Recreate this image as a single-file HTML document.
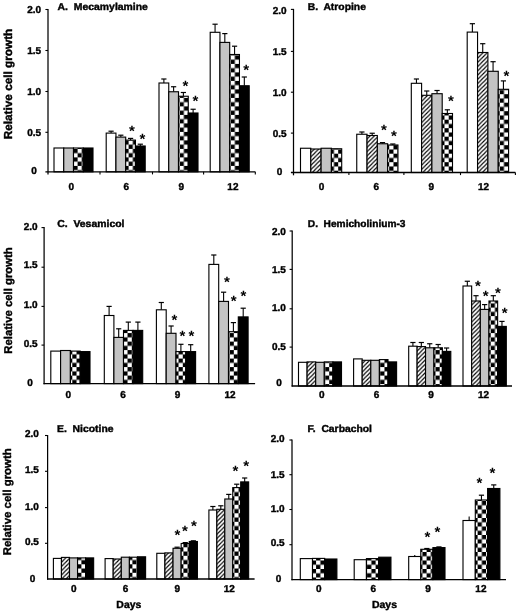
<!DOCTYPE html>
<html><head><meta charset="utf-8"><title>Relative cell growth</title>
<style>
html,body{margin:0;padding:0;background:#fff;}
svg{display:block;}
text{font-family:"Liberation Sans", sans-serif;font-weight:bold;fill:#000;text-rendering:geometricPrecision;}
</style></head>
<body>
<svg width="520" height="613" viewBox="0 0 520 613">
<rect x="0" y="0" width="520" height="613" fill="#fff"/>
<defs>
<pattern id="chk0" x="230.60" y="55.40" width="8.5" height="8.5" patternUnits="userSpaceOnUse"><rect width="8.5" height="8.5" fill="#000"/><rect x="0" y="0" width="4.25" height="4.25" fill="#fff"/><rect x="4.25" y="4.25" width="4.25" height="4.25" fill="#fff"/></pattern>
<pattern id="chk1" x="499.70" y="94.20" width="8.5" height="8.5" patternUnits="userSpaceOnUse"><rect width="8.5" height="8.5" fill="#000"/><rect x="0" y="0" width="4.25" height="4.25" fill="#fff"/><rect x="4.25" y="4.25" width="4.25" height="4.25" fill="#fff"/></pattern>
<pattern id="hat1" x="0.25" y="0" width="4.25" height="4.25" patternUnits="userSpaceOnUse"><rect width="4.25" height="4.25" fill="#fff"/><path d="M-1,5.25 L5.25,-1 M-1,1 L1,-1 M3.25,5.25 L5.25,3.25" stroke="#000" stroke-width="1.15" fill="none"/></pattern>
<pattern id="chk2" x="72.30" y="358.60" width="8.5" height="8.5" patternUnits="userSpaceOnUse"><rect width="8.5" height="8.5" fill="#000"/><rect x="0" y="0" width="4.25" height="4.25" fill="#fff"/><rect x="4.25" y="4.25" width="4.25" height="4.25" fill="#fff"/></pattern>
<pattern id="chk3" x="490.70" y="307.60" width="8.5" height="8.5" patternUnits="userSpaceOnUse"><rect width="8.5" height="8.5" fill="#000"/><rect x="0" y="0" width="4.25" height="4.25" fill="#fff"/><rect x="4.25" y="4.25" width="4.25" height="4.25" fill="#fff"/></pattern>
<pattern id="hat3" x="3.25" y="0" width="4.25" height="4.25" patternUnits="userSpaceOnUse"><rect width="4.25" height="4.25" fill="#fff"/><path d="M-1,5.25 L5.25,-1 M-1,1 L1,-1 M3.25,5.25 L5.25,3.25" stroke="#000" stroke-width="1.15" fill="none"/></pattern>
<pattern id="chk4" x="234.40" y="487.80" width="8.5" height="8.5" patternUnits="userSpaceOnUse"><rect width="8.5" height="8.5" fill="#000"/><rect x="0" y="0" width="4.25" height="4.25" fill="#fff"/><rect x="4.25" y="4.25" width="4.25" height="4.25" fill="#fff"/></pattern>
<pattern id="hat4" x="3.20" y="0" width="4.25" height="4.25" patternUnits="userSpaceOnUse"><rect width="4.25" height="4.25" fill="#fff"/><path d="M-1,5.25 L5.25,-1 M-1,1 L1,-1 M3.25,5.25 L5.25,3.25" stroke="#000" stroke-width="1.15" fill="none"/></pattern>
<pattern id="chk5" x="477.60" y="501.00" width="8.5" height="8.5" patternUnits="userSpaceOnUse"><rect width="8.5" height="8.5" fill="#000"/><rect x="0" y="0" width="4.25" height="4.25" fill="#fff"/><rect x="4.25" y="4.25" width="4.25" height="4.25" fill="#fff"/></pattern>
</defs>
<rect x="54.00" y="148.00" width="9.75" height="23.80" fill="#fff" stroke="#000" stroke-width="1.12"/>
<rect x="63.75" y="148.00" width="9.75" height="23.80" fill="#c4c4c4" stroke="#000" stroke-width="1.12"/>
<rect x="73.50" y="148.00" width="9.75" height="23.80" fill="url(#chk0)" stroke="#000" stroke-width="1.12"/>
<rect x="83.25" y="148.00" width="9.75" height="23.80" fill="#000" stroke="#000" stroke-width="1.12"/>
<line x1="111.08" y1="133.10" x2="111.08" y2="131.20" stroke="#000" stroke-width="1.1"/>
<line x1="108.48" y1="131.20" x2="113.67" y2="131.20" stroke="#000" stroke-width="1.2"/>
<rect x="106.20" y="133.10" width="9.75" height="38.70" fill="#fff" stroke="#000" stroke-width="1.12"/>
<line x1="120.83" y1="137.10" x2="120.83" y2="135.20" stroke="#000" stroke-width="1.1"/>
<line x1="118.23" y1="135.20" x2="123.42" y2="135.20" stroke="#000" stroke-width="1.2"/>
<rect x="115.95" y="137.10" width="9.75" height="34.70" fill="#c4c4c4" stroke="#000" stroke-width="1.12"/>
<line x1="130.57" y1="140.10" x2="130.57" y2="138.40" stroke="#000" stroke-width="1.1"/>
<line x1="127.97" y1="138.40" x2="133.17" y2="138.40" stroke="#000" stroke-width="1.2"/>
<rect x="125.70" y="140.10" width="9.75" height="31.70" fill="url(#chk0)" stroke="#000" stroke-width="1.12"/>
<line x1="140.32" y1="146.00" x2="140.32" y2="144.20" stroke="#000" stroke-width="1.1"/>
<line x1="137.72" y1="144.20" x2="142.92" y2="144.20" stroke="#000" stroke-width="1.2"/>
<rect x="135.45" y="146.00" width="9.75" height="25.80" fill="#000" stroke="#000" stroke-width="1.12"/>
<text x="132.00" y="135.90" font-size="15" text-anchor="middle" >*</text>
<text x="142.50" y="143.90" font-size="15" text-anchor="middle" >*</text>
<line x1="163.88" y1="83.00" x2="163.88" y2="79.00" stroke="#000" stroke-width="1.1"/>
<line x1="161.28" y1="79.00" x2="166.47" y2="79.00" stroke="#000" stroke-width="1.2"/>
<rect x="159.00" y="83.00" width="9.75" height="88.80" fill="#fff" stroke="#000" stroke-width="1.12"/>
<line x1="173.62" y1="91.75" x2="173.62" y2="86.75" stroke="#000" stroke-width="1.1"/>
<line x1="171.03" y1="86.75" x2="176.22" y2="86.75" stroke="#000" stroke-width="1.2"/>
<rect x="168.75" y="91.75" width="9.75" height="80.05" fill="#c4c4c4" stroke="#000" stroke-width="1.12"/>
<line x1="183.38" y1="96.25" x2="183.38" y2="92.50" stroke="#000" stroke-width="1.1"/>
<line x1="180.78" y1="92.50" x2="185.97" y2="92.50" stroke="#000" stroke-width="1.2"/>
<rect x="178.50" y="96.25" width="9.75" height="75.55" fill="url(#chk0)" stroke="#000" stroke-width="1.12"/>
<line x1="193.12" y1="113.00" x2="193.12" y2="109.25" stroke="#000" stroke-width="1.1"/>
<line x1="190.53" y1="109.25" x2="195.72" y2="109.25" stroke="#000" stroke-width="1.2"/>
<rect x="188.25" y="113.00" width="9.75" height="58.80" fill="#000" stroke="#000" stroke-width="1.12"/>
<text x="185.50" y="90.50" font-size="15" text-anchor="middle" >*</text>
<text x="195.40" y="105.70" font-size="15" text-anchor="middle" >*</text>
<line x1="215.07" y1="32.30" x2="215.07" y2="24.20" stroke="#000" stroke-width="1.1"/>
<line x1="212.47" y1="24.20" x2="217.67" y2="24.20" stroke="#000" stroke-width="1.2"/>
<rect x="210.20" y="32.30" width="9.75" height="139.50" fill="#fff" stroke="#000" stroke-width="1.12"/>
<line x1="224.82" y1="42.40" x2="224.82" y2="33.60" stroke="#000" stroke-width="1.1"/>
<line x1="222.22" y1="33.60" x2="227.42" y2="33.60" stroke="#000" stroke-width="1.2"/>
<rect x="219.95" y="42.40" width="9.75" height="129.40" fill="#c4c4c4" stroke="#000" stroke-width="1.12"/>
<line x1="234.57" y1="54.50" x2="234.57" y2="46.20" stroke="#000" stroke-width="1.1"/>
<line x1="231.97" y1="46.20" x2="237.17" y2="46.20" stroke="#000" stroke-width="1.2"/>
<rect x="229.70" y="54.50" width="9.75" height="117.30" fill="url(#chk0)" stroke="#000" stroke-width="1.12"/>
<line x1="244.32" y1="85.75" x2="244.32" y2="77.00" stroke="#000" stroke-width="1.1"/>
<line x1="241.72" y1="77.00" x2="246.92" y2="77.00" stroke="#000" stroke-width="1.2"/>
<rect x="239.45" y="85.75" width="9.75" height="86.05" fill="#000" stroke="#000" stroke-width="1.12"/>
<text x="246.20" y="75.20" font-size="15" text-anchor="middle" >*</text>
<line x1="48.00" y1="9.00" x2="48.00" y2="174.60" stroke="#000" stroke-width="1.25"/>
<line x1="45.40" y1="171.80" x2="255.30" y2="171.80" stroke="#000" stroke-width="1.35"/>
<text x="36.80" y="173.90" font-size="10.0" text-anchor="end" stroke="#000" stroke-width="0.4">0</text>
<line x1="45.40" y1="132.30" x2="48.00" y2="132.30" stroke="#000" stroke-width="1.1"/>
<text x="41.20" y="135.50" font-size="10.0" text-anchor="end" stroke="#000" stroke-width="0.4">0.5</text>
<line x1="45.40" y1="91.50" x2="48.00" y2="91.50" stroke="#000" stroke-width="1.1"/>
<text x="41.20" y="94.90" font-size="10.0" text-anchor="end" stroke="#000" stroke-width="0.4">1.0</text>
<line x1="45.40" y1="50.50" x2="48.00" y2="50.50" stroke="#000" stroke-width="1.1"/>
<text x="41.20" y="54.00" font-size="10.0" text-anchor="end" stroke="#000" stroke-width="0.4">1.5</text>
<line x1="45.40" y1="9.50" x2="48.00" y2="9.50" stroke="#000" stroke-width="1.1"/>
<text x="41.20" y="13.00" font-size="10.0" text-anchor="end" stroke="#000" stroke-width="0.4">2.0</text>
<line x1="100.00" y1="171.80" x2="100.00" y2="174.40" stroke="#000" stroke-width="1.1"/>
<line x1="152.50" y1="171.80" x2="152.50" y2="174.40" stroke="#000" stroke-width="1.1"/>
<line x1="203.60" y1="171.80" x2="203.60" y2="174.40" stroke="#000" stroke-width="1.1"/>
<line x1="255.30" y1="171.80" x2="255.30" y2="174.40" stroke="#000" stroke-width="1.1"/>
<text x="71.30" y="189.80" font-size="10.0" text-anchor="middle" stroke="#000" stroke-width="0.4">0</text>
<text x="126.30" y="189.80" font-size="10.0" text-anchor="middle" stroke="#000" stroke-width="0.4">6</text>
<text x="181.30" y="189.80" font-size="10.0" text-anchor="middle" stroke="#000" stroke-width="0.4">9</text>
<text x="232.90" y="189.80" font-size="10.0" text-anchor="middle" stroke="#000" stroke-width="0.4">12</text>
<text x="57.60" y="9.80" font-size="10.0" text-anchor="start" xml:space="preserve" textLength="90.3" lengthAdjust="spacingAndGlyphs" stroke="#000" stroke-width="0.4">A.  Mecamylamine</text>
<text transform="translate(12.20,84.00) rotate(-90)" font-size="11.6" text-anchor="middle" textLength="110.6" lengthAdjust="spacingAndGlyphs" stroke="#000" stroke-width="0.4">Relative cell growth</text>
<rect x="300.50" y="148.25" width="10.30" height="24.25" fill="#fff" stroke="#000" stroke-width="1.12"/>
<rect x="310.80" y="149.00" width="10.30" height="23.50" fill="url(#hat1)" stroke="#000" stroke-width="1.12"/>
<rect x="321.10" y="148.25" width="10.30" height="24.25" fill="#c4c4c4" stroke="#000" stroke-width="1.12"/>
<rect x="331.40" y="148.75" width="10.30" height="23.75" fill="url(#chk1)" stroke="#000" stroke-width="1.12"/>
<line x1="361.90" y1="134.25" x2="361.90" y2="132.00" stroke="#000" stroke-width="1.1"/>
<line x1="359.30" y1="132.00" x2="364.50" y2="132.00" stroke="#000" stroke-width="1.2"/>
<rect x="356.75" y="134.25" width="10.30" height="38.25" fill="#fff" stroke="#000" stroke-width="1.12"/>
<line x1="372.20" y1="135.50" x2="372.20" y2="133.25" stroke="#000" stroke-width="1.1"/>
<line x1="369.60" y1="133.25" x2="374.80" y2="133.25" stroke="#000" stroke-width="1.2"/>
<rect x="367.05" y="135.50" width="10.30" height="37.00" fill="url(#hat1)" stroke="#000" stroke-width="1.12"/>
<line x1="382.50" y1="143.75" x2="382.50" y2="142.60" stroke="#000" stroke-width="1.1"/>
<line x1="379.90" y1="142.60" x2="385.10" y2="142.60" stroke="#000" stroke-width="1.2"/>
<rect x="377.35" y="143.75" width="10.30" height="28.75" fill="#c4c4c4" stroke="#000" stroke-width="1.12"/>
<line x1="392.80" y1="145.00" x2="392.80" y2="144.00" stroke="#000" stroke-width="1.1"/>
<line x1="390.20" y1="144.00" x2="395.40" y2="144.00" stroke="#000" stroke-width="1.2"/>
<rect x="387.65" y="145.00" width="10.30" height="27.50" fill="url(#chk1)" stroke="#000" stroke-width="1.12"/>
<text x="384.00" y="135.00" font-size="15" text-anchor="middle" >*</text>
<text x="394.00" y="141.40" font-size="15" text-anchor="middle" >*</text>
<line x1="416.45" y1="83.30" x2="416.45" y2="79.00" stroke="#000" stroke-width="1.1"/>
<line x1="413.85" y1="79.00" x2="419.05" y2="79.00" stroke="#000" stroke-width="1.2"/>
<rect x="411.30" y="83.30" width="10.30" height="89.20" fill="#fff" stroke="#000" stroke-width="1.12"/>
<line x1="426.75" y1="95.30" x2="426.75" y2="91.00" stroke="#000" stroke-width="1.1"/>
<line x1="424.15" y1="91.00" x2="429.35" y2="91.00" stroke="#000" stroke-width="1.2"/>
<rect x="421.60" y="95.30" width="10.30" height="77.20" fill="url(#hat1)" stroke="#000" stroke-width="1.12"/>
<line x1="437.05" y1="93.70" x2="437.05" y2="90.50" stroke="#000" stroke-width="1.1"/>
<line x1="434.45" y1="90.50" x2="439.65" y2="90.50" stroke="#000" stroke-width="1.2"/>
<rect x="431.90" y="93.70" width="10.30" height="78.80" fill="#c4c4c4" stroke="#000" stroke-width="1.12"/>
<line x1="447.35" y1="113.50" x2="447.35" y2="109.80" stroke="#000" stroke-width="1.1"/>
<line x1="444.75" y1="109.80" x2="449.95" y2="109.80" stroke="#000" stroke-width="1.2"/>
<rect x="442.20" y="113.50" width="10.30" height="59.00" fill="url(#chk1)" stroke="#000" stroke-width="1.12"/>
<text x="450.80" y="106.40" font-size="15" text-anchor="middle" >*</text>
<line x1="472.38" y1="32.10" x2="472.38" y2="23.70" stroke="#000" stroke-width="1.1"/>
<line x1="469.77" y1="23.70" x2="474.98" y2="23.70" stroke="#000" stroke-width="1.2"/>
<rect x="467.20" y="32.10" width="10.35" height="140.40" fill="#fff" stroke="#000" stroke-width="1.12"/>
<line x1="482.73" y1="52.50" x2="482.73" y2="43.70" stroke="#000" stroke-width="1.1"/>
<line x1="480.12" y1="43.70" x2="485.33" y2="43.70" stroke="#000" stroke-width="1.2"/>
<rect x="477.55" y="52.50" width="10.35" height="120.00" fill="url(#hat1)" stroke="#000" stroke-width="1.12"/>
<line x1="493.07" y1="71.30" x2="493.07" y2="61.70" stroke="#000" stroke-width="1.1"/>
<line x1="490.47" y1="61.70" x2="495.68" y2="61.70" stroke="#000" stroke-width="1.2"/>
<rect x="487.90" y="71.30" width="10.35" height="101.20" fill="#c4c4c4" stroke="#000" stroke-width="1.12"/>
<line x1="503.43" y1="89.30" x2="503.43" y2="80.90" stroke="#000" stroke-width="1.1"/>
<line x1="500.82" y1="80.90" x2="506.03" y2="80.90" stroke="#000" stroke-width="1.2"/>
<rect x="498.25" y="89.30" width="10.35" height="83.20" fill="url(#chk1)" stroke="#000" stroke-width="1.12"/>
<text x="506.30" y="80.80" font-size="15" text-anchor="middle" >*</text>
<line x1="293.50" y1="8.90" x2="293.50" y2="175.30" stroke="#000" stroke-width="1.25"/>
<line x1="290.90" y1="172.50" x2="515.40" y2="172.50" stroke="#000" stroke-width="1.35"/>
<text x="282.30" y="175.00" font-size="10.0" text-anchor="end" stroke="#000" stroke-width="0.4">0</text>
<line x1="290.90" y1="133.10" x2="293.50" y2="133.10" stroke="#000" stroke-width="1.1"/>
<text x="286.70" y="136.50" font-size="10.0" text-anchor="end" stroke="#000" stroke-width="0.4">0.5</text>
<line x1="290.90" y1="92.20" x2="293.50" y2="92.20" stroke="#000" stroke-width="1.1"/>
<text x="286.70" y="96.25" font-size="10.0" text-anchor="end" stroke="#000" stroke-width="0.4">1.0</text>
<line x1="290.90" y1="51.40" x2="293.50" y2="51.40" stroke="#000" stroke-width="1.1"/>
<text x="286.70" y="54.50" font-size="10.0" text-anchor="end" stroke="#000" stroke-width="0.4">1.5</text>
<line x1="290.90" y1="9.40" x2="293.50" y2="9.40" stroke="#000" stroke-width="1.1"/>
<text x="286.70" y="14.20" font-size="10.0" text-anchor="end" stroke="#000" stroke-width="0.4">2.0</text>
<line x1="348.90" y1="172.50" x2="348.90" y2="175.10" stroke="#000" stroke-width="1.1"/>
<line x1="403.90" y1="172.50" x2="403.90" y2="175.10" stroke="#000" stroke-width="1.1"/>
<line x1="460.50" y1="172.50" x2="460.50" y2="175.10" stroke="#000" stroke-width="1.1"/>
<line x1="515.40" y1="172.50" x2="515.40" y2="175.10" stroke="#000" stroke-width="1.1"/>
<text x="321.50" y="190.20" font-size="10.0" text-anchor="middle" stroke="#000" stroke-width="0.4">0</text>
<text x="376.20" y="190.20" font-size="10.0" text-anchor="middle" stroke="#000" stroke-width="0.4">6</text>
<text x="431.20" y="190.20" font-size="10.0" text-anchor="middle" stroke="#000" stroke-width="0.4">9</text>
<text x="483.50" y="190.20" font-size="10.0" text-anchor="middle" stroke="#000" stroke-width="0.4">12</text>
<text x="307.70" y="10.00" font-size="10.0" text-anchor="start" xml:space="preserve" textLength="58.2" lengthAdjust="spacingAndGlyphs" stroke="#000" stroke-width="0.4">B.  Atropine</text>
<rect x="50.80" y="351.10" width="9.80" height="32.50" fill="#fff" stroke="#000" stroke-width="1.12"/>
<rect x="60.60" y="350.50" width="9.80" height="33.10" fill="#c4c4c4" stroke="#000" stroke-width="1.12"/>
<rect x="70.40" y="351.10" width="9.80" height="32.50" fill="url(#chk2)" stroke="#000" stroke-width="1.12"/>
<rect x="80.20" y="351.60" width="9.80" height="32.00" fill="#000" stroke="#000" stroke-width="1.12"/>
<line x1="109.10" y1="315.50" x2="109.10" y2="306.40" stroke="#000" stroke-width="1.1"/>
<line x1="106.50" y1="306.40" x2="111.70" y2="306.40" stroke="#000" stroke-width="1.2"/>
<rect x="104.30" y="315.50" width="9.60" height="68.10" fill="#fff" stroke="#000" stroke-width="1.12"/>
<line x1="118.70" y1="337.40" x2="118.70" y2="328.80" stroke="#000" stroke-width="1.1"/>
<line x1="116.10" y1="328.80" x2="121.30" y2="328.80" stroke="#000" stroke-width="1.2"/>
<rect x="113.90" y="337.40" width="9.60" height="46.20" fill="#c4c4c4" stroke="#000" stroke-width="1.12"/>
<line x1="128.30" y1="330.40" x2="128.30" y2="322.10" stroke="#000" stroke-width="1.1"/>
<line x1="125.70" y1="322.10" x2="130.90" y2="322.10" stroke="#000" stroke-width="1.2"/>
<rect x="123.50" y="330.40" width="9.60" height="53.20" fill="url(#chk2)" stroke="#000" stroke-width="1.12"/>
<line x1="137.90" y1="330.40" x2="137.90" y2="322.10" stroke="#000" stroke-width="1.1"/>
<line x1="135.30" y1="322.10" x2="140.50" y2="322.10" stroke="#000" stroke-width="1.2"/>
<rect x="133.10" y="330.40" width="9.60" height="53.20" fill="#000" stroke="#000" stroke-width="1.12"/>
<line x1="161.30" y1="309.80" x2="161.30" y2="302.50" stroke="#000" stroke-width="1.1"/>
<line x1="158.70" y1="302.50" x2="163.90" y2="302.50" stroke="#000" stroke-width="1.2"/>
<rect x="156.40" y="309.80" width="9.80" height="73.80" fill="#fff" stroke="#000" stroke-width="1.12"/>
<line x1="171.10" y1="333.30" x2="171.10" y2="326.00" stroke="#000" stroke-width="1.1"/>
<line x1="168.50" y1="326.00" x2="173.70" y2="326.00" stroke="#000" stroke-width="1.2"/>
<rect x="166.20" y="333.30" width="9.80" height="50.30" fill="#c4c4c4" stroke="#000" stroke-width="1.12"/>
<line x1="180.90" y1="351.60" x2="180.90" y2="344.30" stroke="#000" stroke-width="1.1"/>
<line x1="178.30" y1="344.30" x2="183.50" y2="344.30" stroke="#000" stroke-width="1.2"/>
<rect x="176.00" y="351.60" width="9.80" height="32.00" fill="url(#chk2)" stroke="#000" stroke-width="1.12"/>
<line x1="190.70" y1="351.60" x2="190.70" y2="344.70" stroke="#000" stroke-width="1.1"/>
<line x1="188.10" y1="344.70" x2="193.30" y2="344.70" stroke="#000" stroke-width="1.2"/>
<rect x="185.80" y="351.60" width="9.80" height="32.00" fill="#000" stroke="#000" stroke-width="1.12"/>
<text x="174.40" y="325.10" font-size="15" text-anchor="middle" >*</text>
<text x="182.40" y="340.80" font-size="15" text-anchor="middle" >*</text>
<text x="191.40" y="340.70" font-size="15" text-anchor="middle" >*</text>
<line x1="213.80" y1="264.40" x2="213.80" y2="255.00" stroke="#000" stroke-width="1.1"/>
<line x1="211.20" y1="255.00" x2="216.40" y2="255.00" stroke="#000" stroke-width="1.2"/>
<rect x="208.90" y="264.40" width="9.80" height="119.20" fill="#fff" stroke="#000" stroke-width="1.12"/>
<line x1="223.60" y1="301.40" x2="223.60" y2="292.20" stroke="#000" stroke-width="1.1"/>
<line x1="221.00" y1="292.20" x2="226.20" y2="292.20" stroke="#000" stroke-width="1.2"/>
<rect x="218.70" y="301.40" width="9.80" height="82.20" fill="#c4c4c4" stroke="#000" stroke-width="1.12"/>
<line x1="233.40" y1="331.70" x2="233.40" y2="322.60" stroke="#000" stroke-width="1.1"/>
<line x1="230.80" y1="322.60" x2="236.00" y2="322.60" stroke="#000" stroke-width="1.2"/>
<rect x="228.50" y="331.70" width="9.80" height="51.90" fill="url(#chk2)" stroke="#000" stroke-width="1.12"/>
<line x1="243.20" y1="316.90" x2="243.20" y2="308.20" stroke="#000" stroke-width="1.1"/>
<line x1="240.60" y1="308.20" x2="245.80" y2="308.20" stroke="#000" stroke-width="1.2"/>
<rect x="238.30" y="316.90" width="9.80" height="66.70" fill="#000" stroke="#000" stroke-width="1.12"/>
<text x="227.00" y="286.80" font-size="15" text-anchor="middle" >*</text>
<text x="233.60" y="306.00" font-size="15" text-anchor="middle" >*</text>
<text x="243.30" y="301.40" font-size="15" text-anchor="middle" >*</text>
<line x1="44.10" y1="227.10" x2="44.10" y2="384.20" stroke="#000" stroke-width="1.25"/>
<line x1="43.50" y1="383.60" x2="255.10" y2="383.60" stroke="#000" stroke-width="1.35"/>
<text x="32.80" y="385.90" font-size="10.0" text-anchor="end" stroke="#000" stroke-width="0.4">0</text>
<line x1="41.50" y1="345.10" x2="44.10" y2="345.10" stroke="#000" stroke-width="1.1"/>
<text x="37.60" y="347.10" font-size="10.0" text-anchor="end" stroke="#000" stroke-width="0.4">0.5</text>
<line x1="41.50" y1="306.40" x2="44.10" y2="306.40" stroke="#000" stroke-width="1.1"/>
<text x="37.60" y="307.70" font-size="10.0" text-anchor="end" stroke="#000" stroke-width="0.4">1.0</text>
<line x1="41.50" y1="267.20" x2="44.10" y2="267.20" stroke="#000" stroke-width="1.1"/>
<text x="37.60" y="268.20" font-size="10.0" text-anchor="end" stroke="#000" stroke-width="0.4">1.5</text>
<line x1="41.50" y1="227.60" x2="44.10" y2="227.60" stroke="#000" stroke-width="1.1"/>
<text x="37.60" y="229.60" font-size="10.0" text-anchor="end" stroke="#000" stroke-width="0.4">2.0</text>
<text x="68.20" y="397.90" font-size="10.0" text-anchor="middle" stroke="#000" stroke-width="0.4">0</text>
<text x="123.10" y="397.90" font-size="10.0" text-anchor="middle" stroke="#000" stroke-width="0.4">6</text>
<text x="177.50" y="397.90" font-size="10.0" text-anchor="middle" stroke="#000" stroke-width="0.4">9</text>
<text x="230.00" y="397.90" font-size="10.0" text-anchor="middle" stroke="#000" stroke-width="0.4">12</text>
<text x="57.20" y="227.30" font-size="10.0" text-anchor="start" xml:space="preserve" textLength="67.3" lengthAdjust="spacingAndGlyphs" stroke="#000" stroke-width="0.4">C.  Vesamicol</text>
<text transform="translate(11.85,300.50) rotate(-90)" font-size="11.3" text-anchor="middle" textLength="106.5" lengthAdjust="spacingAndGlyphs" stroke="#000" stroke-width="0.4">Relative cell growth</text>
<rect x="298.50" y="362.30" width="8.60" height="23.70" fill="#fff" stroke="#000" stroke-width="1.12"/>
<rect x="307.10" y="361.90" width="8.60" height="24.10" fill="url(#hat3)" stroke="#000" stroke-width="1.12"/>
<rect x="315.70" y="362.30" width="8.60" height="23.70" fill="#c4c4c4" stroke="#000" stroke-width="1.12"/>
<rect x="324.30" y="361.90" width="8.60" height="24.10" fill="url(#chk3)" stroke="#000" stroke-width="1.12"/>
<rect x="332.90" y="361.90" width="8.60" height="24.10" fill="#000" stroke="#000" stroke-width="1.12"/>
<rect x="353.60" y="358.90" width="8.60" height="27.10" fill="#fff" stroke="#000" stroke-width="1.12"/>
<rect x="362.20" y="360.30" width="8.60" height="25.70" fill="url(#hat3)" stroke="#000" stroke-width="1.12"/>
<rect x="370.80" y="360.30" width="8.60" height="25.70" fill="#c4c4c4" stroke="#000" stroke-width="1.12"/>
<rect x="379.40" y="359.60" width="8.60" height="26.40" fill="url(#chk3)" stroke="#000" stroke-width="1.12"/>
<rect x="388.00" y="361.90" width="8.60" height="24.10" fill="#000" stroke="#000" stroke-width="1.12"/>
<line x1="412.91" y1="346.20" x2="412.91" y2="342.50" stroke="#000" stroke-width="1.1"/>
<line x1="410.31" y1="342.50" x2="415.51" y2="342.50" stroke="#000" stroke-width="1.2"/>
<rect x="408.70" y="346.20" width="8.42" height="39.80" fill="#fff" stroke="#000" stroke-width="1.12"/>
<line x1="421.33" y1="346.60" x2="421.33" y2="342.50" stroke="#000" stroke-width="1.1"/>
<line x1="418.73" y1="342.50" x2="423.93" y2="342.50" stroke="#000" stroke-width="1.2"/>
<rect x="417.12" y="346.60" width="8.42" height="39.40" fill="url(#hat3)" stroke="#000" stroke-width="1.12"/>
<line x1="429.75" y1="347.80" x2="429.75" y2="343.75" stroke="#000" stroke-width="1.1"/>
<line x1="427.15" y1="343.75" x2="432.35" y2="343.75" stroke="#000" stroke-width="1.2"/>
<rect x="425.54" y="347.80" width="8.42" height="38.20" fill="#c4c4c4" stroke="#000" stroke-width="1.12"/>
<line x1="438.17" y1="347.80" x2="438.17" y2="344.50" stroke="#000" stroke-width="1.1"/>
<line x1="435.57" y1="344.50" x2="440.77" y2="344.50" stroke="#000" stroke-width="1.2"/>
<rect x="433.96" y="347.80" width="8.42" height="38.20" fill="url(#chk3)" stroke="#000" stroke-width="1.12"/>
<line x1="446.59" y1="351.40" x2="446.59" y2="348.00" stroke="#000" stroke-width="1.1"/>
<line x1="443.99" y1="348.00" x2="449.19" y2="348.00" stroke="#000" stroke-width="1.2"/>
<rect x="442.38" y="351.40" width="8.42" height="34.60" fill="#000" stroke="#000" stroke-width="1.12"/>
<line x1="467.33" y1="286.00" x2="467.33" y2="281.25" stroke="#000" stroke-width="1.1"/>
<line x1="464.73" y1="281.25" x2="469.93" y2="281.25" stroke="#000" stroke-width="1.2"/>
<rect x="463.00" y="286.00" width="8.66" height="100.00" fill="#fff" stroke="#000" stroke-width="1.12"/>
<line x1="475.99" y1="301.00" x2="475.99" y2="295.70" stroke="#000" stroke-width="1.1"/>
<line x1="473.39" y1="295.70" x2="478.59" y2="295.70" stroke="#000" stroke-width="1.2"/>
<rect x="471.66" y="301.00" width="8.66" height="85.00" fill="url(#hat3)" stroke="#000" stroke-width="1.12"/>
<line x1="484.65" y1="309.40" x2="484.65" y2="304.60" stroke="#000" stroke-width="1.1"/>
<line x1="482.05" y1="304.60" x2="487.25" y2="304.60" stroke="#000" stroke-width="1.2"/>
<rect x="480.32" y="309.40" width="8.66" height="76.60" fill="#c4c4c4" stroke="#000" stroke-width="1.12"/>
<line x1="493.31" y1="301.00" x2="493.31" y2="295.70" stroke="#000" stroke-width="1.1"/>
<line x1="490.71" y1="295.70" x2="495.91" y2="295.70" stroke="#000" stroke-width="1.2"/>
<rect x="488.98" y="301.00" width="8.66" height="85.00" fill="url(#chk3)" stroke="#000" stroke-width="1.12"/>
<line x1="501.97" y1="326.40" x2="501.97" y2="321.40" stroke="#000" stroke-width="1.1"/>
<line x1="499.37" y1="321.40" x2="504.57" y2="321.40" stroke="#000" stroke-width="1.2"/>
<rect x="497.64" y="326.40" width="8.66" height="59.60" fill="#000" stroke="#000" stroke-width="1.12"/>
<text x="477.90" y="290.60" font-size="15" text-anchor="middle" >*</text>
<text x="485.60" y="301.40" font-size="15" text-anchor="middle" >*</text>
<text x="497.90" y="297.50" font-size="15" text-anchor="middle" >*</text>
<text x="504.60" y="317.60" font-size="15" text-anchor="middle" >*</text>
<line x1="292.20" y1="230.50" x2="292.20" y2="386.60" stroke="#000" stroke-width="1.25"/>
<line x1="291.60" y1="386.00" x2="512.00" y2="386.00" stroke="#000" stroke-width="1.35"/>
<text x="281.70" y="385.80" font-size="10.0" text-anchor="end" stroke="#000" stroke-width="0.4">0</text>
<line x1="289.60" y1="347.10" x2="292.20" y2="347.10" stroke="#000" stroke-width="1.1"/>
<text x="285.80" y="350.00" font-size="10.0" text-anchor="end" stroke="#000" stroke-width="0.4">0.5</text>
<line x1="289.60" y1="308.80" x2="292.20" y2="308.80" stroke="#000" stroke-width="1.1"/>
<text x="285.80" y="311.30" font-size="10.0" text-anchor="end" stroke="#000" stroke-width="0.4">1.0</text>
<line x1="289.60" y1="269.40" x2="292.20" y2="269.40" stroke="#000" stroke-width="1.1"/>
<text x="285.80" y="272.70" font-size="10.0" text-anchor="end" stroke="#000" stroke-width="0.4">1.5</text>
<line x1="289.60" y1="231.00" x2="292.20" y2="231.00" stroke="#000" stroke-width="1.1"/>
<text x="285.80" y="234.50" font-size="10.0" text-anchor="end" stroke="#000" stroke-width="0.4">2.0</text>
<text x="321.80" y="398.20" font-size="10.0" text-anchor="middle" stroke="#000" stroke-width="0.4">0</text>
<text x="376.60" y="398.20" font-size="10.0" text-anchor="middle" stroke="#000" stroke-width="0.4">6</text>
<text x="431.00" y="398.20" font-size="10.0" text-anchor="middle" stroke="#000" stroke-width="0.4">9</text>
<text x="483.50" y="398.20" font-size="10.0" text-anchor="middle" stroke="#000" stroke-width="0.4">12</text>
<text x="307.80" y="227.30" font-size="10.0" text-anchor="start" xml:space="preserve" textLength="97.7" lengthAdjust="spacingAndGlyphs" stroke="#000" stroke-width="0.4">D.  Hemicholinium-3</text>
<rect x="53.40" y="558.40" width="8.05" height="20.60" fill="#fff" stroke="#000" stroke-width="1.12"/>
<rect x="61.45" y="557.40" width="8.05" height="21.60" fill="url(#hat4)" stroke="#000" stroke-width="1.12"/>
<rect x="69.50" y="557.90" width="8.05" height="21.10" fill="#c4c4c4" stroke="#000" stroke-width="1.12"/>
<rect x="77.55" y="557.90" width="8.05" height="21.10" fill="url(#chk4)" stroke="#000" stroke-width="1.12"/>
<rect x="85.60" y="557.90" width="8.05" height="21.10" fill="#000" stroke="#000" stroke-width="1.12"/>
<rect x="105.10" y="558.60" width="8.10" height="20.40" fill="#fff" stroke="#000" stroke-width="1.12"/>
<rect x="113.20" y="559.00" width="8.10" height="20.00" fill="url(#hat4)" stroke="#000" stroke-width="1.12"/>
<rect x="121.30" y="557.20" width="8.10" height="21.80" fill="#c4c4c4" stroke="#000" stroke-width="1.12"/>
<rect x="129.40" y="557.20" width="8.10" height="21.80" fill="url(#chk4)" stroke="#000" stroke-width="1.12"/>
<rect x="137.50" y="556.80" width="8.10" height="22.20" fill="#000" stroke="#000" stroke-width="1.12"/>
<rect x="156.80" y="553.30" width="8.12" height="25.70" fill="#fff" stroke="#000" stroke-width="1.12"/>
<rect x="164.92" y="552.90" width="8.12" height="26.10" fill="url(#hat4)" stroke="#000" stroke-width="1.12"/>
<line x1="177.10" y1="548.30" x2="177.10" y2="547.20" stroke="#000" stroke-width="1.1"/>
<line x1="174.50" y1="547.20" x2="179.70" y2="547.20" stroke="#000" stroke-width="1.2"/>
<rect x="173.04" y="548.30" width="8.12" height="30.70" fill="#c4c4c4" stroke="#000" stroke-width="1.12"/>
<line x1="185.22" y1="543.50" x2="185.22" y2="542.60" stroke="#000" stroke-width="1.1"/>
<line x1="182.62" y1="542.60" x2="187.82" y2="542.60" stroke="#000" stroke-width="1.2"/>
<rect x="181.16" y="543.50" width="8.12" height="35.50" fill="url(#chk4)" stroke="#000" stroke-width="1.12"/>
<line x1="193.34" y1="541.50" x2="193.34" y2="540.80" stroke="#000" stroke-width="1.1"/>
<line x1="190.74" y1="540.80" x2="195.94" y2="540.80" stroke="#000" stroke-width="1.2"/>
<rect x="189.28" y="541.50" width="8.12" height="37.50" fill="#000" stroke="#000" stroke-width="1.12"/>
<text x="177.40" y="539.90" font-size="15" text-anchor="middle" >*</text>
<text x="184.90" y="535.60" font-size="15" text-anchor="middle" >*</text>
<text x="193.80" y="531.00" font-size="15" text-anchor="middle" >*</text>
<line x1="212.88" y1="510.00" x2="212.88" y2="506.50" stroke="#000" stroke-width="1.1"/>
<line x1="210.28" y1="506.50" x2="215.47" y2="506.50" stroke="#000" stroke-width="1.2"/>
<rect x="208.90" y="510.00" width="7.95" height="69.00" fill="#fff" stroke="#000" stroke-width="1.12"/>
<line x1="220.82" y1="509.30" x2="220.82" y2="505.80" stroke="#000" stroke-width="1.1"/>
<line x1="218.22" y1="505.80" x2="223.42" y2="505.80" stroke="#000" stroke-width="1.2"/>
<rect x="216.85" y="509.30" width="7.95" height="69.70" fill="url(#hat4)" stroke="#000" stroke-width="1.12"/>
<line x1="228.78" y1="499.00" x2="228.78" y2="494.40" stroke="#000" stroke-width="1.1"/>
<line x1="226.18" y1="494.40" x2="231.38" y2="494.40" stroke="#000" stroke-width="1.2"/>
<rect x="224.80" y="499.00" width="7.95" height="80.00" fill="#c4c4c4" stroke="#000" stroke-width="1.12"/>
<line x1="236.72" y1="487.60" x2="236.72" y2="484.20" stroke="#000" stroke-width="1.1"/>
<line x1="234.12" y1="484.20" x2="239.32" y2="484.20" stroke="#000" stroke-width="1.2"/>
<rect x="232.75" y="487.60" width="7.95" height="91.40" fill="url(#chk4)" stroke="#000" stroke-width="1.12"/>
<line x1="244.68" y1="481.90" x2="244.68" y2="478.00" stroke="#000" stroke-width="1.1"/>
<line x1="242.08" y1="478.00" x2="247.28" y2="478.00" stroke="#000" stroke-width="1.2"/>
<rect x="240.70" y="481.90" width="7.95" height="97.10" fill="#000" stroke="#000" stroke-width="1.12"/>
<text x="235.40" y="475.90" font-size="15" text-anchor="middle" >*</text>
<text x="246.10" y="470.80" font-size="15" text-anchor="middle" >*</text>
<line x1="47.60" y1="435.00" x2="47.60" y2="579.60" stroke="#000" stroke-width="1.25"/>
<line x1="47.00" y1="579.00" x2="254.60" y2="579.00" stroke="#000" stroke-width="1.35"/>
<text x="35.30" y="581.80" font-size="10.0" text-anchor="end" stroke="#000" stroke-width="0.4">0</text>
<line x1="45.00" y1="543.30" x2="47.60" y2="543.30" stroke="#000" stroke-width="1.1"/>
<text x="38.90" y="545.10" font-size="10.0" text-anchor="end" stroke="#000" stroke-width="0.4">0.5</text>
<line x1="45.00" y1="507.60" x2="47.60" y2="507.60" stroke="#000" stroke-width="1.1"/>
<text x="38.90" y="510.15" font-size="10.0" text-anchor="end" stroke="#000" stroke-width="0.4">1.0</text>
<line x1="45.00" y1="471.30" x2="47.60" y2="471.30" stroke="#000" stroke-width="1.1"/>
<text x="38.90" y="472.90" font-size="10.0" text-anchor="end" stroke="#000" stroke-width="0.4">1.5</text>
<line x1="45.00" y1="435.50" x2="47.60" y2="435.50" stroke="#000" stroke-width="1.1"/>
<text x="38.90" y="436.50" font-size="10.0" text-anchor="end" stroke="#000" stroke-width="0.4">2.0</text>
<text x="73.80" y="591.50" font-size="10.0" text-anchor="middle" stroke="#000" stroke-width="0.4">0</text>
<text x="125.60" y="591.50" font-size="10.0" text-anchor="middle" stroke="#000" stroke-width="0.4">6</text>
<text x="177.40" y="591.50" font-size="10.0" text-anchor="middle" stroke="#000" stroke-width="0.4">9</text>
<text x="229.20" y="591.50" font-size="10.0" text-anchor="middle" stroke="#000" stroke-width="0.4">12</text>
<text x="57.00" y="431.70" font-size="10.0" text-anchor="start" xml:space="preserve" textLength="56.5" lengthAdjust="spacingAndGlyphs" stroke="#000" stroke-width="0.4">E.  Nicotine</text>
<text transform="translate(11.25,501.80) rotate(-90)" font-size="11.3" text-anchor="middle" textLength="106.85" lengthAdjust="spacingAndGlyphs" stroke="#000" stroke-width="0.4">Relative cell growth</text>
<text x="128.85" y="608.40" font-size="10.3" text-anchor="middle" textLength="25" lengthAdjust="spacingAndGlyphs" stroke="#000" stroke-width="0.4">Days</text>
<rect x="300.30" y="558.60" width="12.20" height="21.00" fill="#fff" stroke="#000" stroke-width="1.12"/>
<rect x="312.50" y="558.40" width="12.20" height="21.20" fill="url(#chk5)" stroke="#000" stroke-width="1.12"/>
<rect x="324.70" y="559.00" width="12.20" height="20.60" fill="#000" stroke="#000" stroke-width="1.12"/>
<rect x="354.20" y="559.70" width="12.25" height="19.90" fill="#fff" stroke="#000" stroke-width="1.12"/>
<rect x="366.45" y="558.60" width="12.25" height="21.00" fill="url(#chk5)" stroke="#000" stroke-width="1.12"/>
<rect x="378.70" y="557.20" width="12.25" height="22.40" fill="#000" stroke="#000" stroke-width="1.12"/>
<line x1="414.75" y1="556.50" x2="414.75" y2="554.90" stroke="#000" stroke-width="1.1"/>
<rect x="408.70" y="556.50" width="12.10" height="23.10" fill="#fff" stroke="#000" stroke-width="1.12"/>
<line x1="426.85" y1="549.30" x2="426.85" y2="548.50" stroke="#000" stroke-width="1.1"/>
<line x1="424.25" y1="548.50" x2="429.45" y2="548.50" stroke="#000" stroke-width="1.2"/>
<rect x="420.80" y="549.30" width="12.10" height="30.30" fill="url(#chk5)" stroke="#000" stroke-width="1.12"/>
<line x1="438.95" y1="547.60" x2="438.95" y2="546.90" stroke="#000" stroke-width="1.1"/>
<line x1="436.35" y1="546.90" x2="441.55" y2="546.90" stroke="#000" stroke-width="1.2"/>
<rect x="432.90" y="547.60" width="12.10" height="32.00" fill="#000" stroke="#000" stroke-width="1.12"/>
<text x="427.50" y="542.10" font-size="15" text-anchor="middle" >*</text>
<text x="437.50" y="537.30" font-size="15" text-anchor="middle" >*</text>
<line x1="469.15" y1="520.50" x2="469.15" y2="516.40" stroke="#000" stroke-width="1.1"/>
<rect x="463.00" y="520.50" width="12.30" height="59.10" fill="#fff" stroke="#000" stroke-width="1.12"/>
<line x1="481.45" y1="500.00" x2="481.45" y2="495.20" stroke="#000" stroke-width="1.1"/>
<line x1="478.85" y1="495.20" x2="484.05" y2="495.20" stroke="#000" stroke-width="1.2"/>
<rect x="475.30" y="500.00" width="12.30" height="79.60" fill="url(#chk5)" stroke="#000" stroke-width="1.12"/>
<line x1="493.75" y1="488.50" x2="493.75" y2="484.90" stroke="#000" stroke-width="1.1"/>
<line x1="491.15" y1="484.90" x2="496.35" y2="484.90" stroke="#000" stroke-width="1.2"/>
<rect x="487.60" y="488.50" width="12.30" height="91.10" fill="#000" stroke="#000" stroke-width="1.12"/>
<text x="479.50" y="487.90" font-size="15" text-anchor="middle" >*</text>
<text x="492.40" y="478.00" font-size="15" text-anchor="middle" >*</text>
<line x1="292.00" y1="439.50" x2="292.00" y2="580.20" stroke="#000" stroke-width="1.25"/>
<line x1="291.40" y1="579.60" x2="506.00" y2="579.60" stroke="#000" stroke-width="1.35"/>
<text x="281.30" y="581.80" font-size="10.0" text-anchor="end" stroke="#000" stroke-width="0.4">0</text>
<line x1="289.40" y1="544.70" x2="292.00" y2="544.70" stroke="#000" stroke-width="1.1"/>
<text x="284.60" y="545.80" font-size="10.0" text-anchor="end" stroke="#000" stroke-width="0.4">0.5</text>
<line x1="289.40" y1="509.50" x2="292.00" y2="509.50" stroke="#000" stroke-width="1.1"/>
<text x="284.60" y="512.10" font-size="10.0" text-anchor="end" stroke="#000" stroke-width="0.4">1.0</text>
<line x1="289.40" y1="474.70" x2="292.00" y2="474.70" stroke="#000" stroke-width="1.1"/>
<text x="284.60" y="477.60" font-size="10.0" text-anchor="end" stroke="#000" stroke-width="0.4">1.5</text>
<line x1="289.40" y1="440.00" x2="292.00" y2="440.00" stroke="#000" stroke-width="1.1"/>
<text x="284.60" y="442.15" font-size="10.0" text-anchor="end" stroke="#000" stroke-width="0.4">2.0</text>
<text x="318.80" y="591.50" font-size="10.0" text-anchor="middle" stroke="#000" stroke-width="0.4">0</text>
<text x="373.40" y="591.50" font-size="10.0" text-anchor="middle" stroke="#000" stroke-width="0.4">6</text>
<text x="428.10" y="591.50" font-size="10.0" text-anchor="middle" stroke="#000" stroke-width="0.4">9</text>
<text x="480.90" y="591.50" font-size="10.0" text-anchor="middle" stroke="#000" stroke-width="0.4">12</text>
<text x="307.60" y="431.70" font-size="10.0" text-anchor="start" xml:space="preserve" textLength="64.4" lengthAdjust="spacingAndGlyphs" stroke="#000" stroke-width="0.4">F.  Carbachol</text>
<text x="384.50" y="608.00" font-size="10.3" text-anchor="middle" textLength="25" lengthAdjust="spacingAndGlyphs" stroke="#000" stroke-width="0.4">Days</text>
</svg>
</body></html>
